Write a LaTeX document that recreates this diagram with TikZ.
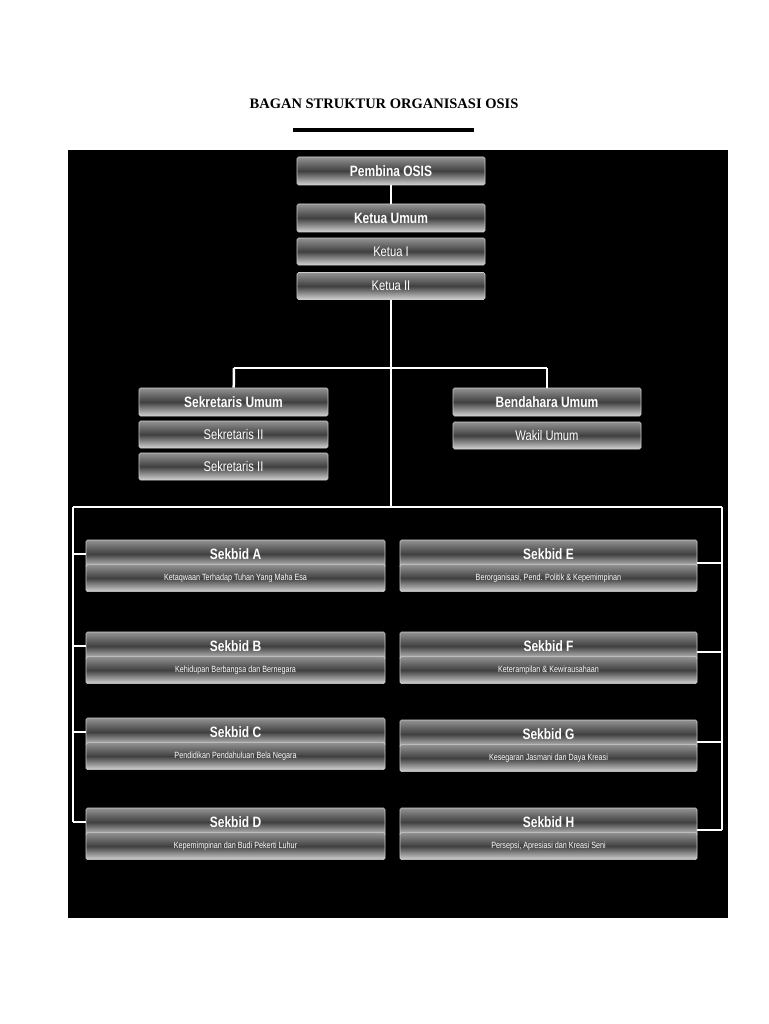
\documentclass[tikz,border=0pt]{standalone}
\usepackage{fontspec}
\setmainfont{Liberation Serif}
\newfontfamily\boxfont[FakeStretch=0.8]{Liberation Sans}
\begin{document}
\begin{tikzpicture}[x=1pt,y=-1pt,
  box/.style={draw=gray!40,line width=0.6pt,rounded corners=1.5pt,top color=gray!85,bottom color=gray!35,middle color=black!75,shading angle=0,
    text=white,font=\boxfont\bfseries\fontsize{15}{15}\selectfont,inner sep=0pt},
  sub/.style={box,font=\boxfont\fontsize{14}{14}\selectfont},
  tiny/.style={box,font=\boxfont\fontsize{9}{9}\selectfont},
  wl/.style={draw=white,line width=2.5pt}]
\useasboundingbox (0,0) rectangle (768,1024);
\fill[white] (0,0) rectangle (768,1024);
\node[font=\bfseries\fontsize{14.5}{15}\selectfont] (title) at (384,104) {BAGAN STRUKTUR ORGANISASI OSIS};
\draw[line width=3.5pt] (293,130) -- (474,130);
\fill[black] (68,150) rectangle (728,918);
% top
\node[box,minimum width=188,minimum height=28] (pem) at (391,171) {Pembina OSIS};
\node[box,minimum width=188,minimum height=28] (ku) at (391,218) {Ketua Umum};
\node[sub,minimum width=188,minimum height=27] (k1) at (391,251.5) {Ketua I};
\node[sub,minimum width=188,minimum height=27] (k2) at (391,286) {Ketua II};
\coordinate (hub) at (391,368);
\coordinate (bot) at (391,507);
\coordinate (hl) at (234,368);
\coordinate (hr) at (547,368);
\coordinate (bl) at (73,507);
\coordinate (br) at (722,507);
\node[box,minimum width=189,minimum height=28] (su) at (233.5,402) {Sekretaris Umum};
\node[sub,minimum width=189,minimum height=27] (s1) at (233.5,434.5) {Sekretaris II};
\node[sub,minimum width=189,minimum height=27] (s2) at (233.5,466.5) {Sekretaris II};
\node[box,minimum width=188,minimum height=28] (bu) at (547,402) {Bendahara Umum};
\node[sub,minimum width=188,minimum height=27] (wu) at (547,435.5) {Wakil Umum};
\draw[wl] (pem) -- (ku);
\draw[wl] (k2) -- (bot);
\draw[wl] (hl) -- (hr);
\draw[wl] (hl) -- (su);
\draw[wl] (hr) -- (bu);
\draw[wl] (bl) -- (br);
% sekbid
\foreach \n/\t/\s/\y in {A/Sekbid A/Ketaqwaan Terhadap Tuhan Yang Maha Esa/554,
  B/Sekbid B/Kehidupan Berbangsa dan Bernegara/646,
  C/Sekbid C/Pendidikan Pendahuluan Bela Negara/732,
  D/Sekbid D/Kepemimpinan dan Budi Pekerti Luhur/822}{
  \node[box,minimum width=299,minimum height=28] (\n) at (235.5,\y) {\t};
  \node[tiny,minimum width=299,minimum height=27,anchor=north] (\n s) at ([yshift=4]\n.south) {\s};
}
\foreach \n/\t/\s/\y in {E/Sekbid E/{Berorganisasi, Pend. Politik \& Kepemimpinan}/554,
  F/Sekbid F/Keterampilan \& Kewirausahaan/646,
  G/Sekbid G/Kesegaran Jasmani dan Daya Kreasi/734,
  H/Sekbid H/{Persepsi, Apresiasi dan Kreasi Seni}/822}{
  \node[box,minimum width=297,minimum height=28] (\n) at (548.5,\y) {\t};
  \node[tiny,minimum width=297,minimum height=27,anchor=north] (\n s) at ([yshift=4]\n.south) {\s};
}
\coordinate (lb) at (73,822);
\coordinate (rb) at (722,830);
\draw[wl] (bl) -- (lb);
\draw[wl] (br) -- (rb);
\foreach \n in {A,B,C,D}{\draw[wl] (\n.west) -- (\n.west -| bl);}
\draw[wl] (E.east) ++(0,9) coordinate (e1) -- (e1 -| br);
\draw[wl] (F.east) ++(0,6) coordinate (f1) -- (f1 -| br);
\draw[wl] (G.east) ++(0,8) coordinate (g1) -- (g1 -| br);
\draw[wl] (H.east) ++(0,8) coordinate (h1) -- (h1 -| br);
\end{tikzpicture}
\end{document}
